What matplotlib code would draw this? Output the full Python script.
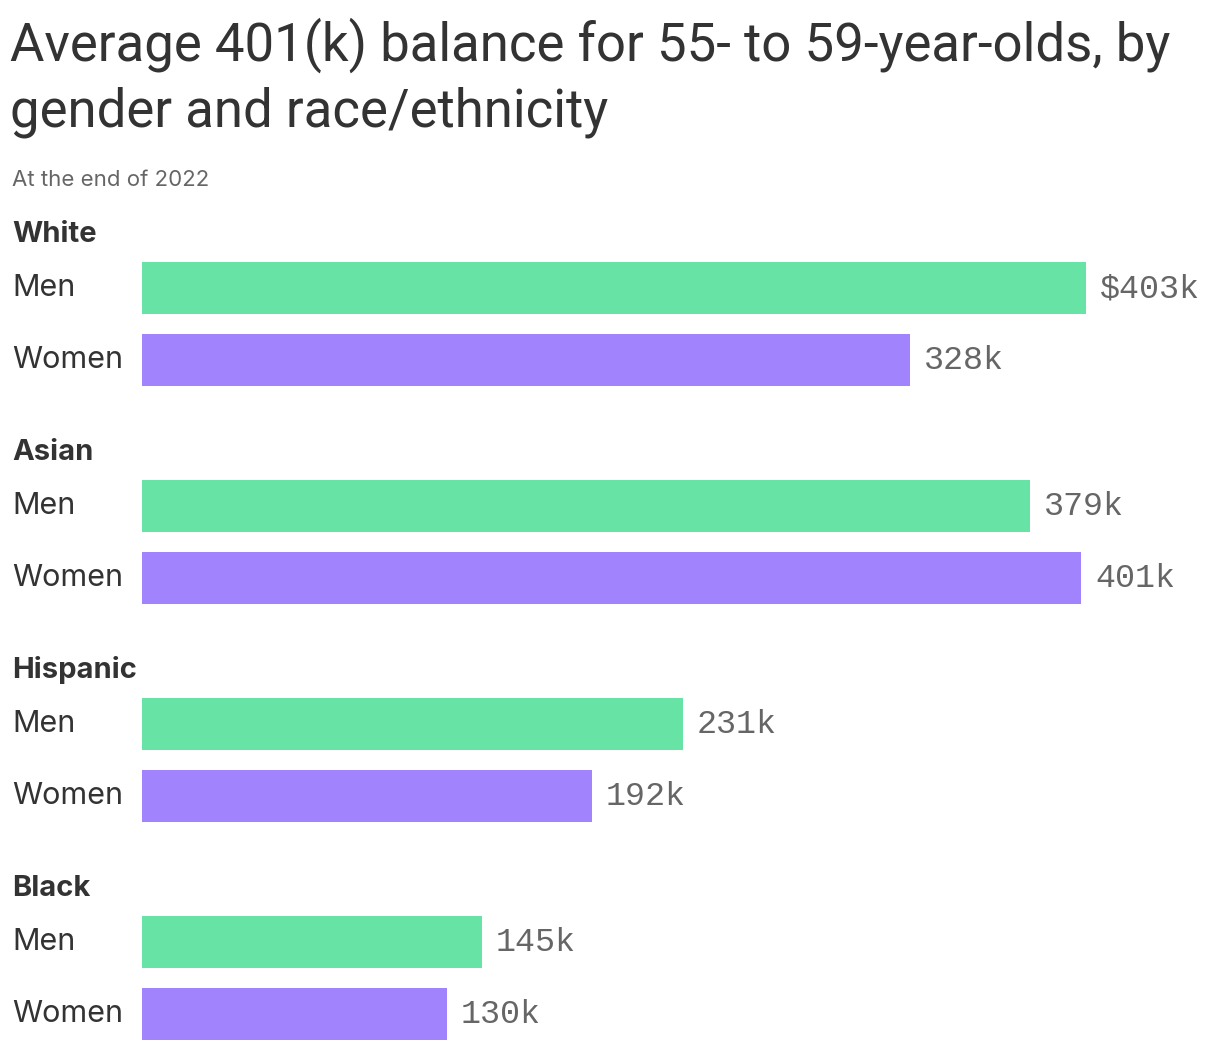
import matplotlib
matplotlib.use('Agg')
from matplotlib import pyplot as plt

groups = ['White', 'Asian', 'Hispanic', 'Black']
genders = ['Men', 'Women']
men = [403, 379, 231, 145]
women = [328, 401, 192, 130]

GREEN = '#66e3a5'
PURPLE = '#a283fe'
DARK = '#333333'
GRAY = '#666666'

plt.rcParams['font.family'] = ['Inter', 'DejaVu Sans']

fig = plt.figure(figsize=(12.2, 10.5), dpi=100)
# axes over the whole figure, y in pixels, x in $k
ax = fig.add_axes([0, 0, 1, 1])
px_per_k = (1086 - 142) / 403.0
ax.set_xlim(-142 / px_per_k, (1220 - 142) / px_per_k)
ax.set_ylim(1050, 0)
ax.axis('off')

fig.text(10 / 1220, 1 - 45 / 1050, 'Average 401(k) balance for 55- to 59-year-olds, by',
         fontsize=38, color=DARK, va='center', ha='left', family=['Roboto', 'DejaVu Sans'])
fig.text(10 / 1220, 1 - 112 / 1050, 'gender and race/ethnicity',
         fontsize=38, color=DARK, va='center', ha='left', family=['Roboto', 'DejaVu Sans'])
fig.text(12 / 1220, 1 - 180 / 1050, 'At the end of 2022', fontsize=16, color=GRAY, va='center', ha='left')

label_x = -130 / px_per_k
for g, name in enumerate(groups):
    base = 287.5 + g * 218
    ax.text(label_x, base - 53, name, fontsize=21, fontweight='bold', color=DARK, va='center', ha='left')
    vals = [men[g], women[g]]
    cols = [GREEN, PURPLE]
    for i in range(2):
        y = base + i * 72
        ax.barh(y, vals[i], height=52, color=cols[i], left=0)
        ax.text(label_x, y, genders[i], fontsize=22, color=DARK, va='center', ha='left')
        lab = ('$%dk' if (g == 0 and i == 0) else '%dk') % vals[i]
        ax.text(vals[i] + 14 / px_per_k, y + 1, lab, fontsize=24, color=GRAY, va='center', ha='left',
                family=['Liberation Mono', 'DejaVu Sans Mono'])

fig.savefig('out.png', dpi=100)
